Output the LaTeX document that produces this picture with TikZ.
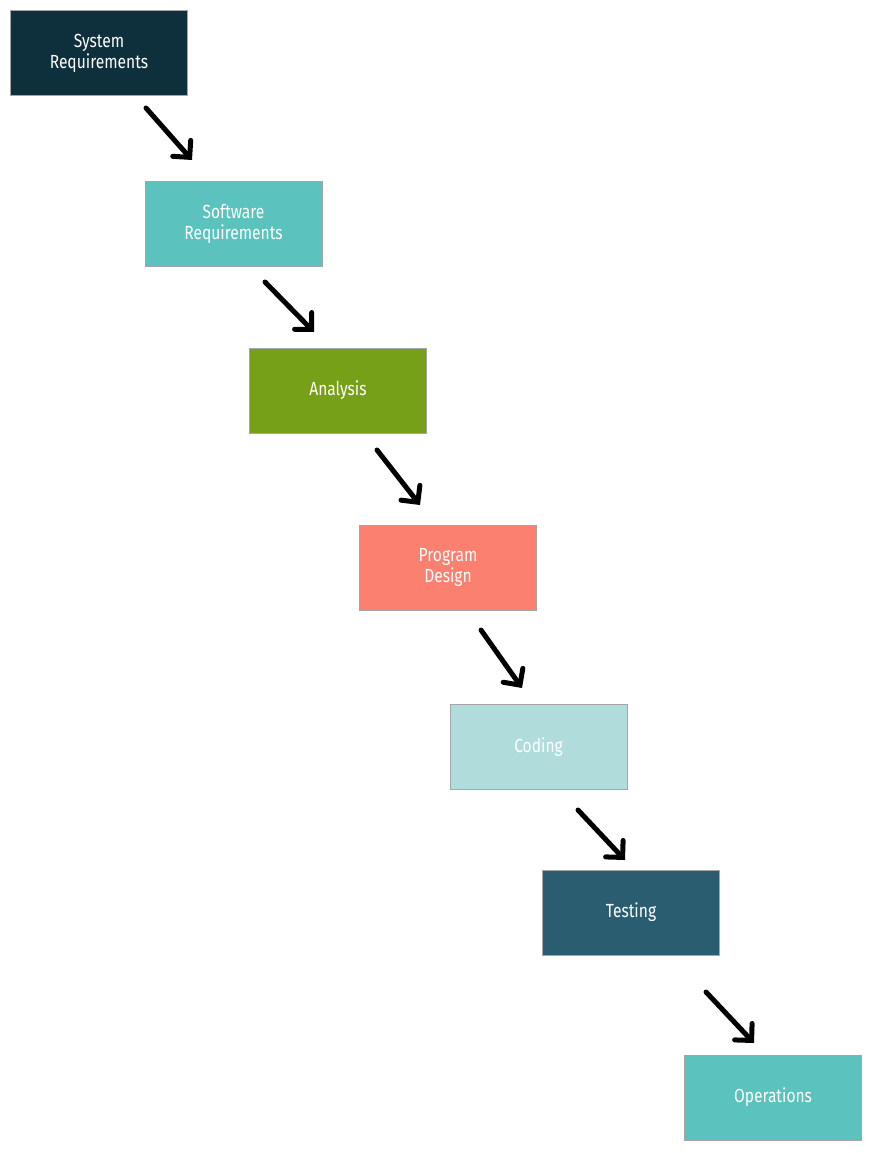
\documentclass[tikz,border=0pt]{standalone}
\usepackage{fontspec}
\setmainfont[FakeStretch=0.82]{Fira Sans}
\usetikzlibrary{arrows.meta}
\definecolor{c1}{HTML}{0E2F3C}
\definecolor{c2}{HTML}{5BC2BD}
\definecolor{c3}{HTML}{76A017}
\definecolor{c4}{HTML}{FB8070}
\definecolor{c5}{HTML}{B0DCDC}
\definecolor{c6}{HTML}{2A5D70}
\tikzset{
  stage/.style={draw=gray!70, line width=0.8pt, minimum width=177pt, minimum height=85pt, inner sep=0pt,
    text=white, align=center, font=\fontsize{19}{21}\selectfont},
  flow/.style={line width=5pt, line cap=round, -{Straight Barb[length=12pt,width=24pt,line width=5pt, line cap=round]}}
}
\begin{document}
\begin{tikzpicture}[x=1pt,y=-1pt]
\useasboundingbox (0,0) rectangle (873,1153);
\node[stage, fill=c1] (s1) at (99,53) {System\\Requirements};
\node[stage, fill=c2] (s2) at (233.5,223.5) {Software\\Requirements};
\node[stage, fill=c3] (s3) at (338,390.5) {Analysis};
\node[stage, fill=c4] (s4) at (448,567.5) {Program\\Design};
\node[stage, fill=c5] (s5) at (538.5,747) {Coding};
\node[stage, fill=c6] (s6) at (631,912.5) {Testing};
\node[stage, fill=c2] (s7) at (773,1097.5) {Operations};
\foreach \i/\xa/\ya/\xb/\yb in {1/146/108/192/160, 2/265/282/314/332, 3/377/450/420/505, 4/481/630/522/688, 5/578/810/625/860, 6/706/992/754/1043}{
  \coordinate (a\i) at (\xa,\ya);
  \coordinate (b\i) at (\xb,\yb);
  \draw[flow] (a\i) -- (b\i);
}
\end{tikzpicture}
\end{document}
